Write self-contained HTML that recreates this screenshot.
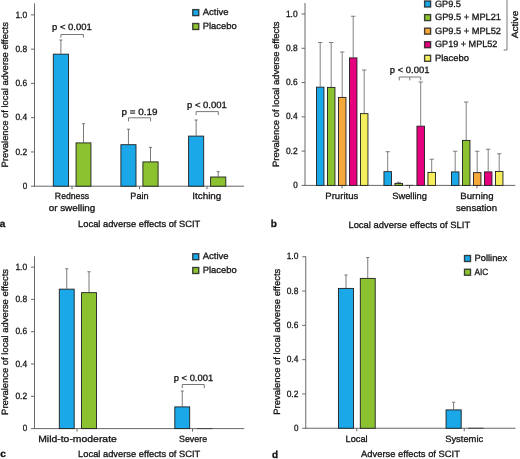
<!DOCTYPE html>
<html lang="en"><head><meta charset="utf-8"><title>Local adverse effects</title>
<style>
html,body{margin:0;padding:0;background:#fff}
body{width:520px;height:459px;overflow:hidden}
svg{display:block;font-family:"Liberation Sans",sans-serif;font-size:9.15px}
text{fill:#151515;stroke:#151515;stroke-width:0.3px;text-rendering:geometricPrecision}
</style></head><body>
<svg width="520" height="459" viewBox="0 0 520 459">
<rect width="520" height="459" fill="#fff"/>
<g id="chart-a">
<path d="M34.5 3.4L34.5 186.7" stroke="#696969" stroke-width="1" fill="none"/>
<path d="M34.0 186.2L244 186.2" stroke="#696969" stroke-width="1" fill="none"/>
<path d="M31.0 186.2L34.5 186.2" stroke="#696969" stroke-width="1" fill="none"/>
<text x="27.1" y="188.8" text-anchor="end" textLength="4.47" lengthAdjust="spacingAndGlyphs">0</text>
<path d="M31.0 151.94L34.5 151.94" stroke="#696969" stroke-width="1" fill="none"/>
<text x="27.1" y="154.54" text-anchor="end" textLength="11.67" lengthAdjust="spacingAndGlyphs">0.2</text>
<path d="M31.0 117.68L34.5 117.68" stroke="#696969" stroke-width="1" fill="none"/>
<text x="27.1" y="120.28" text-anchor="end" textLength="11.67" lengthAdjust="spacingAndGlyphs">0.4</text>
<path d="M31.0 83.42L34.5 83.42" stroke="#696969" stroke-width="1" fill="none"/>
<text x="27.1" y="86.02" text-anchor="end" textLength="11.67" lengthAdjust="spacingAndGlyphs">0.6</text>
<path d="M31.0 49.16L34.5 49.16" stroke="#696969" stroke-width="1" fill="none"/>
<text x="27.1" y="51.76" text-anchor="end" textLength="11.67" lengthAdjust="spacingAndGlyphs">0.8</text>
<path d="M31.0 14.9L34.5 14.9" stroke="#696969" stroke-width="1" fill="none"/>
<text x="27.1" y="17.5" text-anchor="end" textLength="11.67" lengthAdjust="spacingAndGlyphs">1.0</text>
<path d="M72 186.2L72 189.2" stroke="#696969" stroke-width="1" fill="none"/>
<path d="M139.5 186.2L139.5 189.2" stroke="#696969" stroke-width="1" fill="none"/>
<path d="M207 186.2L207 189.2" stroke="#696969" stroke-width="1" fill="none"/>
<text x="8.1" y="94.8" text-anchor="middle" textLength="145.35" lengthAdjust="spacingAndGlyphs" transform="rotate(-90 8.1 94.8)">Prevalence of local adverse effects</text>
<path d="M60.88 53.75V40M59.33 40H62.43" stroke="#6a6a6a" stroke-width="0.9" fill="none"/>
<rect x="53.3" y="54.15" width="15.15" height="132.05" fill="#1ba8e8" stroke="#1f1f1f" stroke-width="0.9"/>
<path d="M83.5 142.5V123.75M81.95 123.75H85.05" stroke="#6a6a6a" stroke-width="0.9" fill="none"/>
<rect x="76.05" y="142.9" width="14.9" height="43.3" fill="#8cc230" stroke="#1f1f1f" stroke-width="0.9"/>
<path d="M128.45 144.3V129.2M126.9 129.2H130.0" stroke="#6a6a6a" stroke-width="0.9" fill="none"/>
<rect x="120.9" y="144.7" width="15.1" height="41.5" fill="#1ba8e8" stroke="#1f1f1f" stroke-width="0.9"/>
<path d="M150.5 161.5V147.4M148.95 147.4H152.05" stroke="#6a6a6a" stroke-width="0.9" fill="none"/>
<rect x="142.9" y="161.9" width="15.2" height="24.3" fill="#8cc230" stroke="#1f1f1f" stroke-width="0.9"/>
<path d="M196.15 135.7V120M194.6 120H197.7" stroke="#6a6a6a" stroke-width="0.9" fill="none"/>
<rect x="188.6" y="136.1" width="15.1" height="50.1" fill="#1ba8e8" stroke="#1f1f1f" stroke-width="0.9"/>
<path d="M218.2 176.6V171.7M216.65 171.7H219.75" stroke="#6a6a6a" stroke-width="0.9" fill="none"/>
<rect x="210.6" y="177.0" width="15.2" height="9.2" fill="#8cc230" stroke="#1f1f1f" stroke-width="0.9"/>
<path d="M60.9 37.7V34.5H83.4V37.7" stroke="#696969" stroke-width="0.9" fill="none"/>
<text x="52" y="30.4" textLength="39.79" lengthAdjust="spacingAndGlyphs">p &lt; 0.001</text>
<path d="M128.5 121.3V117.8H150.6V121.3" stroke="#696969" stroke-width="0.9" fill="none"/>
<text x="121.5" y="114.6" textLength="36.03" lengthAdjust="spacingAndGlyphs">p = 0.19</text>
<path d="M196.1 115.1V111.6H218.3V115.1" stroke="#696969" stroke-width="0.9" fill="none"/>
<text x="187" y="108" textLength="39.79" lengthAdjust="spacingAndGlyphs">p &lt; 0.001</text>
<rect x="192.75" y="9.6" width="6.0" height="6.0" fill="#1ba8e8" stroke="#202020" stroke-opacity="0.85" stroke-width="1.35"/>
<text x="202.75" y="15.2" textLength="25.88" lengthAdjust="spacingAndGlyphs">Active</text>
<rect x="192.75" y="23.5" width="6.0" height="6.0" fill="#8cc230" stroke="#202020" stroke-opacity="0.85" stroke-width="1.35"/>
<text x="202.75" y="29.1" textLength="34.0" lengthAdjust="spacingAndGlyphs">Placebo</text>
<text x="72" y="199.4" text-anchor="middle" textLength="34.26" lengthAdjust="spacingAndGlyphs">Redness</text>
<text x="72" y="210.9" text-anchor="middle" textLength="46.69" lengthAdjust="spacingAndGlyphs">or swelling</text>
<text x="139.5" y="199.4" text-anchor="middle" textLength="18.27" lengthAdjust="spacingAndGlyphs">Pain</text>
<text x="206.8" y="199.4" text-anchor="middle" textLength="29.13" lengthAdjust="spacingAndGlyphs">Itching</text>
<text x="139.2" y="227.2" text-anchor="middle" textLength="122.21" lengthAdjust="spacingAndGlyphs">Local adverse effects of SCIT</text>
<text x="-0.2" y="227.1" font-weight="bold" font-size="10">a</text>
</g>
<g id="chart-b">
<path d="M305 3L305 185.9" stroke="#696969" stroke-width="1" fill="none"/>
<path d="M304.5 185.4L515.3 185.4" stroke="#696969" stroke-width="1" fill="none"/>
<path d="M301.5 185.4L305 185.4" stroke="#696969" stroke-width="1" fill="none"/>
<text x="297.6" y="188.0" text-anchor="end" textLength="4.47" lengthAdjust="spacingAndGlyphs">0</text>
<path d="M301.5 151.12L305 151.12" stroke="#696969" stroke-width="1" fill="none"/>
<text x="297.6" y="153.72" text-anchor="end" textLength="11.67" lengthAdjust="spacingAndGlyphs">0.2</text>
<path d="M301.5 116.84L305 116.84" stroke="#696969" stroke-width="1" fill="none"/>
<text x="297.6" y="119.44" text-anchor="end" textLength="11.67" lengthAdjust="spacingAndGlyphs">0.4</text>
<path d="M301.5 82.56L305 82.56" stroke="#696969" stroke-width="1" fill="none"/>
<text x="297.6" y="85.16" text-anchor="end" textLength="11.67" lengthAdjust="spacingAndGlyphs">0.6</text>
<path d="M301.5 48.28L305 48.28" stroke="#696969" stroke-width="1" fill="none"/>
<text x="297.6" y="50.88" text-anchor="end" textLength="11.67" lengthAdjust="spacingAndGlyphs">0.8</text>
<path d="M301.5 14.0L305 14.0" stroke="#696969" stroke-width="1" fill="none"/>
<text x="297.6" y="16.6" text-anchor="end" textLength="11.67" lengthAdjust="spacingAndGlyphs">1.0</text>
<path d="M342 185.4L342 188.4" stroke="#696969" stroke-width="1" fill="none"/>
<path d="M409.5 185.4L409.5 188.4" stroke="#696969" stroke-width="1" fill="none"/>
<path d="M477 185.4L477 188.4" stroke="#696969" stroke-width="1" fill="none"/>
<text x="279.2" y="94.2" text-anchor="middle" textLength="145.35" lengthAdjust="spacingAndGlyphs" transform="rotate(-90 279.2 94.2)">Prevalence of local adverse effects</text>
<path d="M320.2 86.75V42.5M318.0 42.5H322.4" stroke="#6a6a6a" stroke-width="0.85" fill="none"/>
<rect x="316.45" y="87.15" width="7.5" height="98.25" fill="#1ba8e8" stroke="#1f1f1f" stroke-width="0.9"/>
<path d="M331.2 87V42.5M329.0 42.5H333.4" stroke="#6a6a6a" stroke-width="0.85" fill="none"/>
<rect x="327.45" y="87.4" width="7.5" height="98.0" fill="#8cc230" stroke="#1f1f1f" stroke-width="0.9"/>
<path d="M342.2 97V52M340.0 52H344.4" stroke="#6a6a6a" stroke-width="0.85" fill="none"/>
<rect x="338.45" y="97.4" width="7.5" height="88.0" fill="#f6a83a" stroke="#1f1f1f" stroke-width="0.9"/>
<path d="M353.2 57.5V16.25M351.0 16.25H355.4" stroke="#6a6a6a" stroke-width="0.85" fill="none"/>
<rect x="349.45" y="57.9" width="7.5" height="127.5" fill="#e5007d" stroke="#1f1f1f" stroke-width="0.9"/>
<path d="M364.2 113.25V70M362.0 70H366.4" stroke="#6a6a6a" stroke-width="0.85" fill="none"/>
<rect x="360.45" y="113.65" width="7.5" height="71.75" fill="#f4ee5c" stroke="#1f1f1f" stroke-width="0.9"/>
<path d="M387.7 171.25V151.7M385.5 151.7H389.9" stroke="#6a6a6a" stroke-width="0.85" fill="none"/>
<rect x="383.95" y="171.65" width="7.5" height="13.75" fill="#1ba8e8" stroke="#1f1f1f" stroke-width="0.9"/>
<path d="M398.7 183V182.3M396.5 182.3H400.9" stroke="#6a6a6a" stroke-width="0.85" fill="none"/>
<rect x="394.95" y="183.4" width="7.5" height="2.0" fill="#8cc230" stroke="#1f1f1f" stroke-width="0.9"/>
<path d="M405.75 185.4L413.25 185.4" stroke="#444" stroke-width="1" fill="none"/>
<path d="M420.7 125.75V82.0M418.5 82.0H422.9" stroke="#6a6a6a" stroke-width="0.85" fill="none"/>
<rect x="416.95" y="126.15" width="7.5" height="59.25" fill="#e5007d" stroke="#1f1f1f" stroke-width="0.9"/>
<path d="M431.7 172V159.2M429.5 159.2H433.9" stroke="#6a6a6a" stroke-width="0.85" fill="none"/>
<rect x="427.95" y="172.4" width="7.5" height="13.0" fill="#f4ee5c" stroke="#1f1f1f" stroke-width="0.9"/>
<path d="M455.2 171.5V151.25M453.0 151.25H457.4" stroke="#6a6a6a" stroke-width="0.85" fill="none"/>
<rect x="451.45" y="171.9" width="7.5" height="13.5" fill="#1ba8e8" stroke="#1f1f1f" stroke-width="0.9"/>
<path d="M466.2 140V102M464.0 102H468.4" stroke="#6a6a6a" stroke-width="0.85" fill="none"/>
<rect x="462.45" y="140.4" width="7.5" height="45.0" fill="#8cc230" stroke="#1f1f1f" stroke-width="0.9"/>
<path d="M477.2 172.25V151.25M475.0 151.25H479.4" stroke="#6a6a6a" stroke-width="0.85" fill="none"/>
<rect x="473.45" y="172.65" width="7.5" height="12.75" fill="#f6a83a" stroke="#1f1f1f" stroke-width="0.9"/>
<path d="M488.2 171.5V149.25M486.0 149.25H490.4" stroke="#6a6a6a" stroke-width="0.85" fill="none"/>
<rect x="484.45" y="171.9" width="7.5" height="13.5" fill="#e5007d" stroke="#1f1f1f" stroke-width="0.9"/>
<path d="M499.2 171V153.75M497.0 153.75H501.4" stroke="#6a6a6a" stroke-width="0.85" fill="none"/>
<rect x="495.45" y="171.4" width="7.5" height="14.0" fill="#f4ee5c" stroke="#1f1f1f" stroke-width="0.9"/>
<path d="M399.25 80.4V77.0H420.7V80.4M409.8 77.0V80.4" stroke="#696969" stroke-width="0.9" fill="none"/>
<text x="389.8" y="72.5" textLength="39.58" lengthAdjust="spacingAndGlyphs">p &lt; 0.001</text>
<rect x="424.6" y="1.0" width="6.0" height="6.0" fill="#1ba8e8" stroke="#202020" stroke-opacity="0.85" stroke-width="1.35"/>
<text x="435" y="6.6" textLength="25.88" lengthAdjust="spacingAndGlyphs">GP9.5</text>
<rect x="424.6" y="14.6" width="6.0" height="6.0" fill="#8cc230" stroke="#202020" stroke-opacity="0.85" stroke-width="1.35"/>
<text x="435" y="20.2" textLength="65.97" lengthAdjust="spacingAndGlyphs">GP9.5 + MPL21</text>
<rect x="424.6" y="28.15" width="6.0" height="6.0" fill="#f6a83a" stroke="#202020" stroke-opacity="0.85" stroke-width="1.35"/>
<text x="435" y="33.75" textLength="65.97" lengthAdjust="spacingAndGlyphs">GP9.5 + MPL52</text>
<rect x="424.6" y="41.7" width="6.0" height="6.0" fill="#e5007d" stroke="#202020" stroke-opacity="0.85" stroke-width="1.35"/>
<text x="435" y="47.3" textLength="62.42" lengthAdjust="spacingAndGlyphs">GP19 + MPL52</text>
<rect x="424.6" y="55.3" width="6.0" height="6.0" fill="#f4ee5c" stroke="#202020" stroke-opacity="0.85" stroke-width="1.35"/>
<text x="435" y="60.9" textLength="34.0" lengthAdjust="spacingAndGlyphs">Placebo</text>
<path d="M507 0V50H503.7" stroke="#696969" stroke-width="0.9" fill="none"/>
<text x="518.4" y="24.5" text-anchor="middle" textLength="27.71" lengthAdjust="spacingAndGlyphs" transform="rotate(-90 518.4 24.5)">Active</text>
<text x="341.8" y="198.8" text-anchor="middle" textLength="32.99" lengthAdjust="spacingAndGlyphs">Pruritus</text>
<text x="409.6" y="198.8" text-anchor="middle" textLength="34.76" lengthAdjust="spacingAndGlyphs">Swelling</text>
<text x="476.9" y="198.8" text-anchor="middle" textLength="33.24" lengthAdjust="spacingAndGlyphs">Burning</text>
<text x="476.5" y="210.6" text-anchor="middle" textLength="41.11" lengthAdjust="spacingAndGlyphs">sensation</text>
<text x="409.3" y="227.5" text-anchor="middle" textLength="121.8" lengthAdjust="spacingAndGlyphs">Local adverse effects of SLIT</text>
<text x="270.7" y="227.1" font-weight="bold" font-size="10">b</text>
</g>
<g id="chart-c">
<path d="M34.5 256.25L34.5 429.1" stroke="#696969" stroke-width="1" fill="none"/>
<path d="M34.0 428.6L244.3 428.6" stroke="#696969" stroke-width="1" fill="none"/>
<path d="M31.0 428.6L34.5 428.6" stroke="#696969" stroke-width="1" fill="none"/>
<text x="27.1" y="431.2" text-anchor="end" textLength="4.47" lengthAdjust="spacingAndGlyphs">0</text>
<path d="M31.0 396.3L34.5 396.3" stroke="#696969" stroke-width="1" fill="none"/>
<text x="27.1" y="398.9" text-anchor="end" textLength="11.67" lengthAdjust="spacingAndGlyphs">0.2</text>
<path d="M31.0 364.0L34.5 364.0" stroke="#696969" stroke-width="1" fill="none"/>
<text x="27.1" y="366.6" text-anchor="end" textLength="11.67" lengthAdjust="spacingAndGlyphs">0.4</text>
<path d="M31.0 331.7L34.5 331.7" stroke="#696969" stroke-width="1" fill="none"/>
<text x="27.1" y="334.3" text-anchor="end" textLength="11.67" lengthAdjust="spacingAndGlyphs">0.6</text>
<path d="M31.0 299.4L34.5 299.4" stroke="#696969" stroke-width="1" fill="none"/>
<text x="27.1" y="302.0" text-anchor="end" textLength="11.67" lengthAdjust="spacingAndGlyphs">0.8</text>
<path d="M31.0 267.1L34.5 267.1" stroke="#696969" stroke-width="1" fill="none"/>
<text x="27.1" y="269.7" text-anchor="end" textLength="11.67" lengthAdjust="spacingAndGlyphs">1.0</text>
<path d="M77 428.6L77 431.6" stroke="#696969" stroke-width="1" fill="none"/>
<path d="M192.5 428.6L192.5 431.6" stroke="#696969" stroke-width="1" fill="none"/>
<text x="8.1" y="341.93" text-anchor="middle" textLength="145.96" lengthAdjust="spacingAndGlyphs" transform="rotate(-90 8.1 341.93)">Prevalence of local adverse effects</text>
<path d="M66.75 288.75V268.75M65.2 268.75H68.3" stroke="#6a6a6a" stroke-width="0.9" fill="none"/>
<rect x="59.3" y="289.15" width="14.9" height="139.45" fill="#1ba8e8" stroke="#1f1f1f" stroke-width="0.9"/>
<path d="M89.0 292.25V271.75M87.45 271.75H90.55" stroke="#6a6a6a" stroke-width="0.9" fill="none"/>
<rect x="81.55" y="292.65" width="14.9" height="135.95" fill="#8cc230" stroke="#1f1f1f" stroke-width="0.9"/>
<path d="M182.25 406.5V391M180.7 391H183.8" stroke="#6a6a6a" stroke-width="0.9" fill="none"/>
<rect x="174.8" y="406.9" width="14.9" height="21.7" fill="#1ba8e8" stroke="#1f1f1f" stroke-width="0.9"/>
<path d="M197 428.6L212.5 428.6" stroke="#444" stroke-width="1" fill="none"/>
<path d="M182.25 388.1V384.5H204.25V388.1" stroke="#696969" stroke-width="0.9" fill="none"/>
<text x="173.75" y="380.75" textLength="39.38" lengthAdjust="spacingAndGlyphs">p &lt; 0.001</text>
<rect x="192.75" y="253.7" width="6.0" height="6.0" fill="#1ba8e8" stroke="#202020" stroke-opacity="0.85" stroke-width="1.35"/>
<text x="202.75" y="259.3" textLength="25.88" lengthAdjust="spacingAndGlyphs">Active</text>
<rect x="192.75" y="267.5" width="6.0" height="6.0" fill="#8cc230" stroke="#202020" stroke-opacity="0.85" stroke-width="1.35"/>
<text x="202.75" y="273.1" textLength="34.0" lengthAdjust="spacingAndGlyphs">Placebo</text>
<text x="77.5" y="442" text-anchor="middle" textLength="78.66" lengthAdjust="spacingAndGlyphs">Mild-to-moderate</text>
<text x="193.1" y="442" text-anchor="middle" textLength="28.17" lengthAdjust="spacingAndGlyphs">Severe</text>
<text x="139.2" y="457" text-anchor="middle" textLength="122.21" lengthAdjust="spacingAndGlyphs">Local adverse effects of SCIT</text>
<text x="0.2" y="457.4" font-weight="bold" font-size="10">c</text>
</g>
<g id="chart-d">
<path d="M305.75 256.25L305.75 428.75" stroke="#696969" stroke-width="1" fill="none"/>
<path d="M305.25 428.25L515.5 428.25" stroke="#696969" stroke-width="1" fill="none"/>
<path d="M302.25 428.25L305.75 428.25" stroke="#696969" stroke-width="1" fill="none"/>
<text x="298.35" y="430.85" text-anchor="end" textLength="4.47" lengthAdjust="spacingAndGlyphs">0</text>
<path d="M302.25 393.95L305.75 393.95" stroke="#696969" stroke-width="1" fill="none"/>
<text x="298.35" y="396.55" text-anchor="end" textLength="11.67" lengthAdjust="spacingAndGlyphs">0.2</text>
<path d="M302.25 359.65L305.75 359.65" stroke="#696969" stroke-width="1" fill="none"/>
<text x="298.35" y="362.25" text-anchor="end" textLength="11.67" lengthAdjust="spacingAndGlyphs">0.4</text>
<path d="M302.25 325.35L305.75 325.35" stroke="#696969" stroke-width="1" fill="none"/>
<text x="298.35" y="327.95" text-anchor="end" textLength="11.67" lengthAdjust="spacingAndGlyphs">0.6</text>
<path d="M302.25 291.05L305.75 291.05" stroke="#696969" stroke-width="1" fill="none"/>
<text x="298.35" y="293.65" text-anchor="end" textLength="11.67" lengthAdjust="spacingAndGlyphs">0.8</text>
<path d="M302.25 256.75L305.75 256.75" stroke="#696969" stroke-width="1" fill="none"/>
<text x="298.35" y="259.35" text-anchor="end" textLength="11.67" lengthAdjust="spacingAndGlyphs">1.0</text>
<path d="M356.75 428.25L356.75 431.25" stroke="#696969" stroke-width="1" fill="none"/>
<path d="M464.25 428.25L464.25 431.25" stroke="#696969" stroke-width="1" fill="none"/>
<text x="280.2" y="341.75" text-anchor="middle" textLength="145.96" lengthAdjust="spacingAndGlyphs" transform="rotate(-90 280.2 341.75)">Prevalence of local adverse effects</text>
<path d="M346.0 288V275M344.45 275H347.55" stroke="#6a6a6a" stroke-width="0.9" fill="none"/>
<rect x="338.55" y="288.4" width="14.9" height="139.85" fill="#1ba8e8" stroke="#1f1f1f" stroke-width="0.9"/>
<path d="M367.75 278V257.5M366.2 257.5H369.3" stroke="#6a6a6a" stroke-width="0.9" fill="none"/>
<rect x="360.3" y="278.4" width="14.9" height="149.85" fill="#8cc230" stroke="#1f1f1f" stroke-width="0.9"/>
<path d="M453.62 409.5V402.25M452.07 402.25H455.17" stroke="#6a6a6a" stroke-width="0.9" fill="none"/>
<rect x="446.05" y="409.9" width="15.15" height="18.35" fill="#1ba8e8" stroke="#1f1f1f" stroke-width="0.9"/>
<path d="M468 428.25L483.75 428.25" stroke="#444" stroke-width="1" fill="none"/>
<rect x="464.5" y="255.5" width="6.0" height="6.0" fill="#1ba8e8" stroke="#202020" stroke-opacity="0.85" stroke-width="1.35"/>
<text x="474.5" y="261.1" textLength="32.73" lengthAdjust="spacingAndGlyphs">Pollinex</text>
<rect x="464.5" y="269.25" width="6.0" height="6.0" fill="#8cc230" stroke="#202020" stroke-opacity="0.85" stroke-width="1.35"/>
<text x="474.5" y="274.85" textLength="13.7" lengthAdjust="spacingAndGlyphs">AIC</text>
<text x="356.6" y="442.2" text-anchor="middle" textLength="22.08" lengthAdjust="spacingAndGlyphs">Local</text>
<text x="464.2" y="442.2" text-anchor="middle" textLength="38.06" lengthAdjust="spacingAndGlyphs">Systemic</text>
<text x="410.5" y="457.1" text-anchor="middle" textLength="98.96" lengthAdjust="spacingAndGlyphs">Adverse effects of SCIT</text>
<text x="272.1" y="457.6" font-weight="bold" font-size="10">d</text>
</g>
</svg>
</body></html>
